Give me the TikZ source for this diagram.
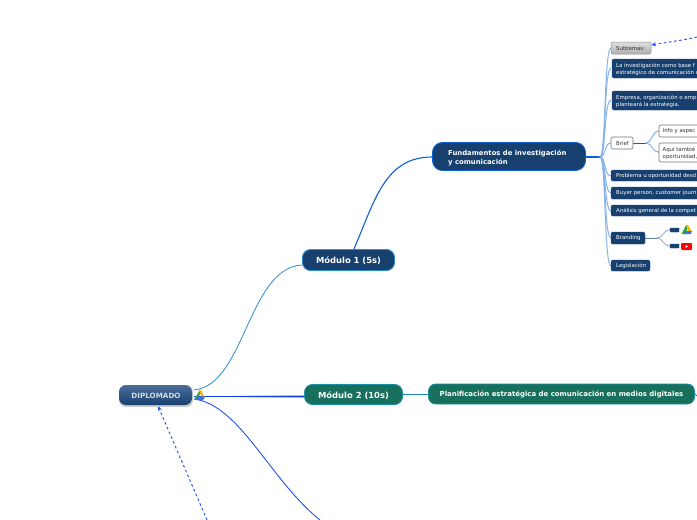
\documentclass[tikz,border=0pt]{standalone}
\usepackage{fontspec}
\setmainfont{DejaVu Sans}
\usetikzlibrary{arrows.meta,shadows}
\definecolor{navy}{HTML}{17406F}
\definecolor{navyb}{HTML}{1F4A82}
\definecolor{mgreen}{HTML}{17705C}
\definecolor{linkb}{HTML}{0B5FD0}
\definecolor{leafc}{HTML}{86B2EC}
\definecolor{tealc}{HTML}{1A8FA8}
\definecolor{curvec}{HTML}{2A8CC8}
\definecolor{dashc}{HTML}{2A5AF0}
\definecolor{bluec}{HTML}{1040F0}
\definecolor{gdg}{HTML}{2BA84A}
\definecolor{gdy}{HTML}{F4B400}
\definecolor{gdb}{HTML}{3F6FE0}
\tikzset{
  tx/.style={anchor=west,inner sep=0pt,align=left,font=\fontsize{5.4}{7}\selectfont,text=white},
  modtx/.style={anchor=center,inner sep=0pt,text=white,font=\fontsize{8.4}{10}\selectfont\bfseries},
  navyleaf/.style={fill=navy,draw=navyb,line width=.4pt,rounded corners=1.5pt},
  whiteleaf/.style={fill=white,draw=black!55,line width=.6pt,rounded corners=2pt},
  leafline/.style={draw=leafc,line width=1pt},
  dashlink/.style={draw=dashc,line width=1pt,dash pattern=on 2.6pt off 2.6pt,-{Stealth[length=5pt,width=4pt]}}
}
\begin{document}
\begin{tikzpicture}[x=1pt,y=-1pt]
\useasboundingbox (0,0) rectangle (697,520);
\clip (0,0) rectangle (697,520);
% free ends
\coordinate (endA) at (697,37);
\coordinate (endB) at (207,520);
\coordinate (endC) at (320,520);
\coordinate (endD) at (697,396);
\coordinate (fork) at (600,157);

\coordinate (dipB) at (158,406);
\coordinate (m1L) at (302,265); \coordinate (m1T) at (354,249); \coordinate (m2L) at (304,396);
\coordinate (m2R) at (403,394); \coordinate (plL) at (428,394); \coordinate (plR) at (695,394);
\coordinate (fuL) at (432,157); \coordinate (fuR) at (586,157);

% connectors
\draw[curvec,line width=.8pt] (194,390) .. controls (245,385) and (248,268) .. (m1L);
\shade[left color=white,right color=leafc] (225,395) rectangle (304,397.2);
\draw[bluec,line width=.8pt] (194,396) -- (m2L);
\draw[bluec,line width=.8pt] (194,399) .. controls (240,405) and (270,480) .. (endC);
\draw[linkb,line width=1.1pt] (m1T) .. controls (375,200) and (385,157) .. (fuL);
\draw[tealc,line width=.9pt] (m2R) -- (plL);
\draw[tealc,line width=.9pt] (plR) -- (endD);
\draw[linkb,line width=1.1pt] (fuR) -- (fork);
\foreach \y in {48,68,100,143,176,193,211,238,266}
  \draw[leafline] (fork) .. controls (606,157) and (604,\y) .. (611,\y);
\draw[linkb,line width=.8pt] (633,143) -- (646,143);
\draw[leafline] (646,143) .. controls (652,143) and (652,131) .. (659,131);
\draw[leafline] (646,143) .. controls (652,143) and (652,152) .. (659,152);
\draw[navyb!70,line width=.8pt] (645,238) -- (657,238);
\draw[navyb!50,line width=.8pt] (657,238) .. controls (663,238) and (663,230) .. (670,230);
\draw[navyb!50,line width=.8pt] (657,238) .. controls (663,238) and (663,246) .. (670,246);

% dashed links
\draw[dashlink] (endA) .. controls (685,40) and (668,42) .. (651,45);
\draw[dashlink] (endB) -- (dipB);

% root
\fill[black!45,rounded corners=7pt,opacity=.45] (119,385) rectangle (193,407);
\shade[rounded corners=7pt,top color=navyb!80!white,bottom color=navy] (119,385) rectangle (192,405);
\node[anchor=center,inner sep=0pt,text=white!80!navy,font=\fontsize{7.2}{8}\selectfont\bfseries] (diplomado) at (156,396) {DIPLOMADO};

% drive icon, root
\fill[gdg] (194.5,399) -- (197.5,394) -- (199.5,390) -- (200,394) -- (198,399) -- cycle;
\fill[gdy] (199,390) -- (201,390) -- (204.5,397) -- (201,396) -- cycle;
\fill[gdb] (196,400) -- (198,396) -- (205,397) -- (203,400) -- cycle;

% modules
\draw[draw=curvec,fill=navy,line width=.9pt,rounded corners=8pt] (302.5,249.5) rectangle (394.5,270.5);
\node[modtx] (mod1) at (348.5,261) {Módulo 1 (5s)};
\draw[draw=tealc,fill=mgreen,line width=.9pt,rounded corners=8pt] (304.5,384.5) rectangle (402.5,404.5);
\node[modtx] (mod2) at (353.5,395.2) {Módulo 2 (10s)};
\node[draw=tealc,fill=mgreen,line width=.7pt,rounded corners=7pt,minimum width=266pt,minimum height=20pt,inner sep=0pt,text=white,font=\fontsize{6.95}{8}\selectfont\bfseries] (plan) at (561.5,394) {Planificación estratégica de comunicación en medios digitales};
\node[draw=linkb,fill=navy,line width=.9pt,rounded corners=10pt,minimum width=153pt,minimum height=28pt,inner sep=0pt] (fund) at (509,156.5) {};
\node[tx,font=\fontsize{6.85}{9.5}\selectfont\bfseries] (fundt) at (448,158) {Fundamentos de investigación\\y comunicación};

% leaves
\shade[rounded corners=2pt,top color=black!12,bottom color=black!32,draw=black!45,line width=.5pt] (611,42) rectangle (651,54);
\node[tx,text=black!80] (sub) at (616,48.3) {Subtemas:};
\draw[navyleaf] (612,59) rectangle (710,78);
\node[tx] (inv) at (616,69.5) {La investigación como base f\\estratégico de comunicación d};
\draw[navyleaf] (612,91) rectangle (710,110);
\node[tx] (emp) at (616,101) {Empresa, organización o emp\\planteará  la estrategia.};
\draw[whiteleaf] (611,137) rectangle (633,149);
\node[tx,text=black!80] (brief) at (616,143.2) {Brief};
\draw[whiteleaf] (659,125) rectangle (710,137);
\node[tx,text=black!80] (info) at (662.5,131.2) {Info y aspec};
\draw[whiteleaf] (659,143) rectangle (710,162);
\node[tx,text=black!80] (aqui) at (662.5,153) {Aquí tambié\\oportunidad,};
\draw[navyleaf] (611,170) rectangle (710,181);
\node[tx] (prob) at (616,176) {Problema u oportunidad desd};
\draw[navyleaf] (611,187) rectangle (710,199);
\node[tx] (buyer) at (616,193.5) {Buyer person, customer journ};
\draw[navyleaf] (611,205) rectangle (710,216);
\node[tx] (ana) at (616,211) {Análisis general de la compet};
\draw[navyleaf] (611,232) rectangle (645,244);
\node[tx] (brand) at (616,238.5) {Branding};
\draw[navyleaf] (611,260) rectangle (650,271);
\node[tx] (leg) at (616,266) {Legislación};
\draw[navyleaf,rounded corners=.5pt] (670,228) rectangle (679,232);
\draw[navyleaf,rounded corners=.5pt] (670,244) rectangle (679,248);

% drive icon, branch
\fill[gdg] (681.5,234) -- (684,229) -- (686,225) -- (687.5,229) -- (685,234) -- cycle;
\fill[gdy] (686,225) -- (688,225) -- (692,232) -- (688.5,232) -- cycle;
\fill[gdb] (684,234) -- (685.5,231) -- (692,231) -- (690.5,234) -- cycle;
% video icon
\fill[red!90!purple,rounded corners=1pt] (681,243) rectangle (692,250);
\fill[white] (685.5,245) -- (688,246.5) -- (685.5,248) -- cycle;
\end{tikzpicture}
\end{document}
